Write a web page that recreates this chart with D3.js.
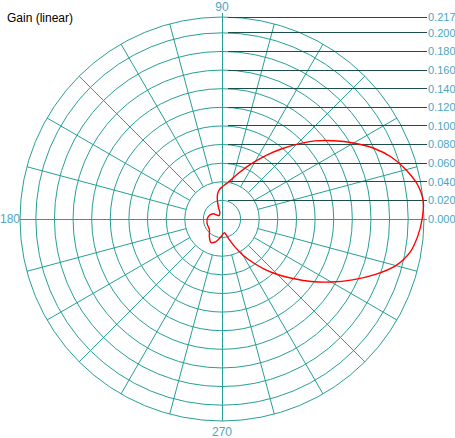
<!DOCTYPE html>
<html>
<head>
<meta charset="utf-8">
<script src="https://cdn.jsdelivr.net/npm/d3@7"></script>
<style>
body { margin: 0; background: #fff; }
text { font-family: "Liberation Sans", Arial, sans-serif; }
</style>
</head>
<body>
<svg width="455" height="438"></svg>
<script>
// pattern samples: angle in degrees (counter-clockwise from 0 = right), gain (linear)
var angles = [0, 5, 10, 15, 20, 25, 30, 35, 40, 45, 50, 55, 60, 65, 70, 75, 80, 85,
	90, 95, 100, 104, 107, 109, 130, 150, 170, 195, 220, 235, 245, 255, 265,
	280, 285, 290, 295, 300, 305, 310, 315, 320, 325, 330, 335, 340, 345, 350, 355];
var gains = [0.2150, 0.2170, 0.2132, 0.2046, 0.1939, 0.1799, 0.1633, 0.1466, 0.1305, 0.1133, 0.0978, 0.0838, 0.0714, 0.0612, 0.0526, 0.0457, 0.0403, 0.0371,
	0.0344, 0.0317, 0.0274, 0.0204, 0.0129, 0.0070, 0.0048, 0.0113, 0.0150, 0.0167, 0.0177, 0.0236, 0.0279, 0.0252, 0.0199,
	0.0150, 0.0177, 0.0242, 0.0333, 0.0446, 0.0564, 0.0698, 0.0843, 0.0994, 0.1171, 0.1354, 0.1547, 0.1746, 0.1934, 0.2052, 0.2111];

var maxGain = 0.217;
var ringValues = [0.02, 0.04, 0.06, 0.08, 0.10, 0.12, 0.14, 0.16, 0.18, 0.20, 0.217];
var tickValues = [0, 0.02, 0.04, 0.06, 0.08, 0.10, 0.12, 0.14, 0.16, 0.18, 0.20, 0.217];
var tickLabels = ["0.000", "0.020", "0.040", "0.060", "0.080", "0.100", "0.120", "0.140", "0.160", "0.180", "0.200", "0.217"];
var spokeAngles = d3.range(0, 360, 15);
var axisLabels = ["90", "180", "270"];

var svg = d3.select("svg");
var cx = 222, cy = 219;
var gridColor = "#26a096", darkColor = "#1c4f4c", labelColor = "#4aa6c4";

var r = d3.scaleLinear().domain([0, maxGain]).range([0, 202]);
var rad = function(a) { return a * Math.PI / 180; };

var g = svg.append("g").attr("transform", "translate(" + cx + "," + cy + ")");

// rings
g.selectAll(".ring")
	.data(ringValues)
	.enter().append("circle")
	.attr("class", "ring")
	.attr("r", function(d) { return r(d); })
	.attr("fill", "none")
	.attr("stroke", gridColor)
	.attr("stroke-width", 1);

// spokes every 15 deg, starting at the second ring
g.selectAll(".spoke")
	.data(spokeAngles.filter(function(a) { return a % 90 != 0; }))
	.enter().append("line")
	.attr("class", "spoke")
	.attr("x1", function(a) { return r(0.04) * Math.cos(rad(a)); })
	.attr("y1", function(a) { return -r(0.04) * Math.sin(rad(a)); })
	.attr("x2", function(a) { return r(maxGain) * Math.cos(rad(a)); })
	.attr("y2", function(a) { return -r(maxGain) * Math.sin(rad(a)); })
	.attr("stroke", gridColor);

// main axes
g.append("line").attr("x1", 0).attr("x2", 0).attr("y1", -r(maxGain) - 4).attr("y2", r(maxGain))
	.attr("stroke", gridColor).attr("shape-rendering", "crispEdges");
g.append("line").attr("x1", -r(maxGain)).attr("x2", 205).attr("y1", 0).attr("y2", 0)
	.attr("stroke", gridColor).attr("shape-rendering", "crispEdges");

// gain scale lines on the right
var ticks = g.selectAll(".tick")
	.data(tickValues)
	.enter().append("g")
	.attr("class", "tick")
	.attr("transform", function(d) { return "translate(0," + (-r(d)) + ")"; });

ticks.filter(function(d) { return d > 0; })
	.append("line")
	.attr("x1", 6).attr("x2", 205)
	.attr("stroke", darkColor)
	.attr("shape-rendering", "crispEdges");

ticks.append("text")
	.attr("x", 206)
	.attr("dy", "0.36em")
	.style("font-size", "11px")
	.attr("fill", labelColor)
	.text(function(d, i) { return tickLabels[i]; });

// angle labels
var labelPos = {
	"90": [0, -r(maxGain) - 6, "middle"],
	"180": [-cx, 4, "start"],
	"270": [0, r(maxGain) + 15, "middle"]
};
g.selectAll(".alabel")
	.data(axisLabels)
	.enter().append("text")
	.attr("class", "alabel")
	.attr("x", function(d) { return labelPos[d][0]; })
	.attr("y", function(d) { return labelPos[d][1]; })
	.attr("text-anchor", function(d) { return labelPos[d][2]; })
	.style("font-size", "12px")
	.attr("fill", labelColor)
	.text(function(d) { return d; });

// pattern
var pts = angles.map(function(a, i) { return [a, gains[i]]; });
var pattern = d3.lineRadial()
	.angle(function(d) { return rad(90 - d[0]); })
	.radius(function(d) { return r(d[1]); })
	.curve(d3.curveCatmullRomClosed.alpha(0.5));

g.append("path")
	.attr("d", pattern(pts))
	.attr("fill", "none")
	.attr("stroke", "#ff0000")
	.attr("stroke-width", 1.4);

svg.append("text")
	.attr("x", 7).attr("y", 22)
	.style("font-size", "12px")
	.attr("fill", "#000")
	.text("Gain (linear)");
</script>
</body>
</html>
